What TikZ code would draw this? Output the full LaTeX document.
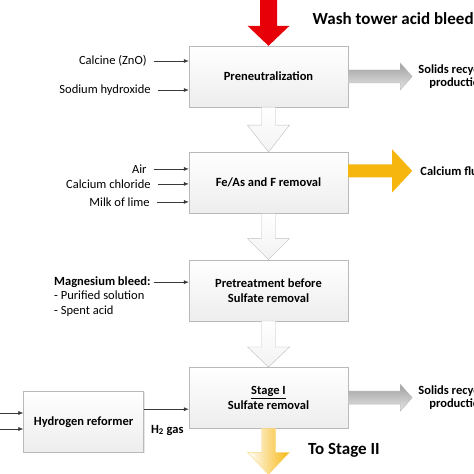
\documentclass[tikz,border=0pt]{standalone}
\usepackage{fontspec}
\setmainfont{Carlito}
\usetikzlibrary{positioning,calc,arrows.meta,shadows}
\definecolor{redarrow}{RGB}{232,0,8}
\definecolor{amber}{RGB}{246,182,14}
\tikzset{
feed/.style={-{Latex[length=5pt,width=4pt]}, draw=gray!45!black, line width=0.6pt},
infeed/.style={feed, shorten <=4pt},
proc/.style={draw=gray!55, top color=white, bottom color=gray!14,
  minimum width=159pt, minimum height=61pt, align=center,
  font=\fontsize{12.5}{15}\selectfont\bfseries,
  drop shadow={opacity=.2, shadow xshift=1pt, shadow yshift=-1pt}},
lbl/.style={inner sep=3pt, font=\fontsize{12.5}{14}\selectfont},
tag/.style={inner sep=3pt, align=center, font=\fontsize{12.5}{13}\selectfont\bfseries},
big/.style={inner sep=3pt, font=\fontsize{17}{20}\selectfont\bfseries},
hollow/.style={draw=gray!50, top color=white, bottom color=gray!10},
greyout/.style={draw=gray!55, top color=gray!75, bottom color=gray!20},
node distance=45pt,
}
% block arrow going down: from, to, shaft half width, head length, style
\newcommand{\vblk}[5]{%
  \path[#5] ($(#1)+(-#3,0)$) -- ($(#2)+(-#3,#4)$) -- ($(#2)+(-21,#4)$) -- (#2)
    -- ($(#2)+(21,#4)$) -- ($(#2)+(#3,#4)$) -- ($(#1)+(#3,0)$) -- cycle;}
% block arrow going right: from, to, shaft half width, head length, head half width, style
\newcommand{\hblk}[6]{%
  \path[#6] ($(#1)+(0,#3)$) -- ($(#2)+(-#4,#3)$) -- ($(#2)+(-#4,#5)$) -- (#2)
    -- ($(#2)+(-#4,-#5)$) -- ($(#2)+(-#4,-#3)$) -- ($(#1)+(0,-#3)$) -- cycle;}

\begin{document}
\begin{tikzpicture}[x=1pt, y=1pt]
    \useasboundingbox (0,0) rectangle (474,474);
    \node[proc] (pre) at (268.5,397.5) {Preneutralization};
    \node[proc] (fe) [below=45pt of pre] {Fe/As and F removal};
    \node[proc] (pt) [below=46pt of fe] {Pretreatment before\\Sulfate removal};
    \node[proc] (st) [below=46pt of pt] {\underline{Stage I}\\Sulfate removal};
    \node[proc, minimum width=120pt] (h2) [left=45pt of st, yshift=-24pt] {Hydrogen reformer};
    % acid bleed coming in
    \coordinate (top) at (268.5,474);
    \vblk{top}{pre.north}{8.5}{20}{fill=redarrow}
    \node[big, anchor=west] (wash) at (309.5,455) {Wash tower acid bleed};
    % stage 1
    \node[lbl, anchor=east] (zno) at ($(pre.west)+(-39,15.5)$) {Calcine (ZnO)};
    \node[lbl, anchor=east] (naoh) at ($(pre.west)+(-35,-13.5)$) {Sodium hydroxide};
    \draw[infeed] (zno) -- (zno -| pre.west);
    \draw[infeed] (naoh) -- (naoh -| pre.west);
    \coordinate (sol1end) at ($(pre.east)+(64,0)$);
    \hblk{pre.east}{sol1end}{6.5}{12}{13.5}{greyout}
    \node[tag, anchor=west] (sol1) at ($(pre.east)+(67,0)$) {Solids recycling\\production};
    \vblk{pre.south}{fe.north}{7}{27}{hollow}
    % iron, arsenic, fluoride
    \node[lbl, anchor=east] (air) at ($(fe.west)+(-39,14)$) {Air};
    \node[lbl, anchor=east] (cacl) at ($(fe.west)+(-35,-1)$) {Calcium chloride};
    \node[lbl, anchor=east] (milk) at ($(fe.west)+(-36,-19)$) {Milk of lime};
    \draw[infeed] (air) -- (air -| fe.west);
    \draw[infeed] (cacl) -- (cacl -| fe.west);
    \draw[infeed] (milk) -- (milk -| fe.west);
    \coordinate (caf2beg) at ($(fe.east)+(0,12)$);
    \coordinate (caf2end) at ($(fe.east)+(64,12)$);
    \hblk{caf2beg}{caf2end}{6.5}{20}{21.5}{fill=amber}
    \node[tag, anchor=west] (caf2) at ($(fe.east)+(69,12)$) {Calcium fluoride};
    \vblk{fe.south}{pt.north}{7}{21}{hollow}
    % magnesium bleed
    \node[lbl, anchor=base west] (mgb) at (51,188.5) {\bfseries Magnesium bleed:};
    \node[lbl, anchor=base west] (mgp) at ($(mgb.base west)+(0,-14.5)$) {- Purified solution};
    \node[lbl, anchor=base west] (mgs) at ($(mgp.base west)+(0,-14.5)$) {- Spent acid};
    \draw[feed] (mgb) -- (mgb -| pt.west);
    \vblk{pt.south}{st.north}{7}{20}{hollow}
    % sulfate removal
    \coordinate (sol2end) at ($(st.east)+(64,0)$);
    \hblk{st.east}{sol2end}{6.5}{12}{13.5}{greyout}
    \node[tag, anchor=west] (sol2) at ($(st.east)+(67,0)$) {Solids recycling\\production};
    \coordinate (in1) at (0,61);
    \coordinate (in2) at (0,45);
    \draw[feed] (in1) -- (in1 -| h2.west);
    \draw[feed] (in2) -- (in2 -| h2.west);
    \coordinate (h2out) at ($(h2.east)+(0,12.5)$);
    \draw[feed] (h2out) -- (h2out -| st.west);
    \node[tag, anchor=west] (h2gas) at ($(h2.east)+(4,-8.5)$) {H\textsubscript{2} gas};
    \coordinate (stage2) at ($(st.south)+(0,-46)$);
    \vblk{st.south}{stage2}{7}{22}{left color=white, right color=amber, draw=amber!50}
    \node[big, anchor=west] (next) at (305,24) {To Stage II};
\end{tikzpicture}
\end{document}
